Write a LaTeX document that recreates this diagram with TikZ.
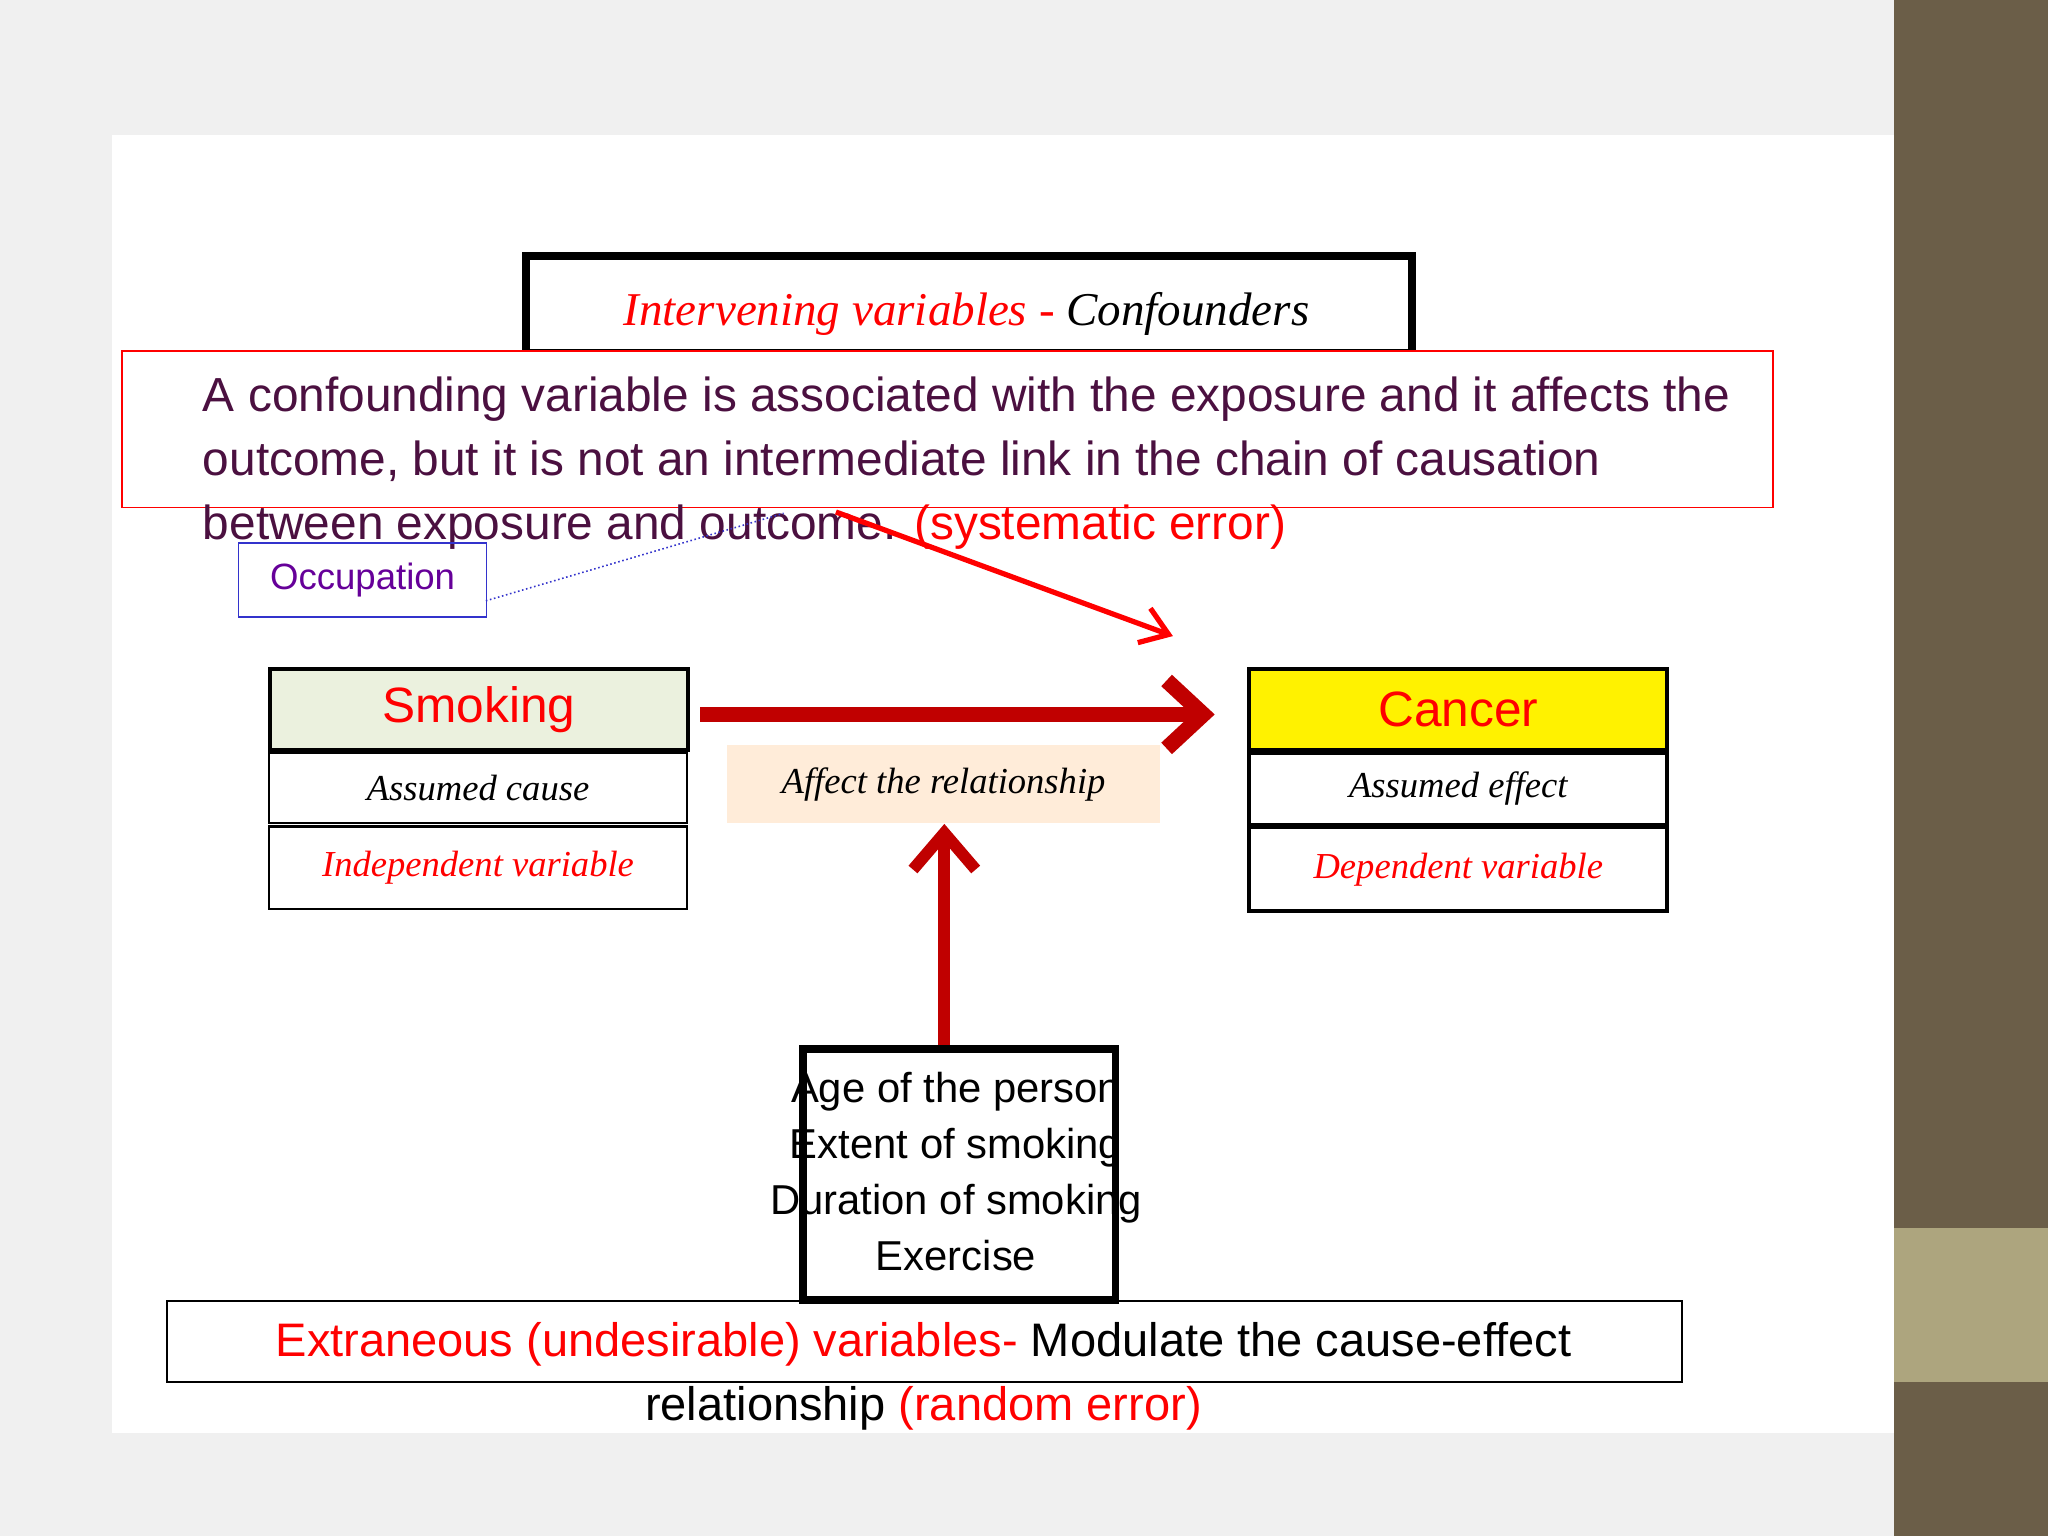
\documentclass[tikz,border=0pt]{standalone}
\usepackage{fontspec}
\setmainfont{Liberation Sans}
\newfontfamily\hand{Liberation Serif}
\usetikzlibrary{arrows.meta}
\definecolor{dred}{HTML}{C00000}
\definecolor{ppl}{HTML}{4B1040}
\definecolor{olive}{HTML}{6B5E48}
\definecolor{olivel}{HTML}{ADA57E}
\definecolor{smkfill}{HTML}{EBF1DE}
\begin{document}
\begin{tikzpicture}[x=0.5pt,y=-0.5pt,
  bx/.style={draw=black,line width=1.5pt,inner sep=0pt,anchor=north west},
  hd/.style={font=\hand\itshape\fontsize{14}{16}\selectfont}]
\fill[gray!12] (0,0) rectangle (1568,1176);
\fill[white] (86,103) rectangle (1450,1097);
\fill[olive] (1450,0) rectangle (1568,1176);
\fill[olivel] (1450,940) rectangle (1568,1058);
% top box
\node[bx,line width=3pt,minimum width=339pt,minimum height=37pt] (top) at (400,193) {};
\node[hd,font=\hand\itshape\fontsize{18}{20}\selectfont] (toptxt) at (740,240) {\textcolor{red}{Intervening variables -} Confounders};
% red box
\node[draw=red,fill=white,line width=0.6pt,inner sep=0pt,anchor=north west,minimum width=632pt,minimum height=60pt] (rb) at (93,268) {};
\node[anchor=north west,text=ppl,align=left,font=\fontsize{18.3}{24.5}\selectfont,inner sep=0pt] (def) at (155,288)
 {A confounding variable is associated with the exposure and it affects the\\
 outcome, but it is not an intermediate link in the chain of causation\\
 between exposure and outcome. \textcolor{red}{(systematic error)}};
% occupation
\node[draw=blue!60!gray,line width=0.6pt,anchor=north west,minimum width=95pt,minimum height=28.5pt,inner sep=0pt,text=violet!80!blue,font=\fontsize{14}{16}\selectfont] (occ) at (182,415) {Occupation};
\coordinate (occe) at (600,393);
\draw[blue!60!gray,densely dotted,line width=0.6pt] (372,460) -- (occe);
\coordinate (ca) at (640,392); \coordinate (cb) at (898,487);
\draw[red,line width=2pt,-{Straight Barb[length=10pt,width=14pt,line width=2pt]}] (ca) -- (cb);
% smoking
\node[bx,fill=smkfill,minimum width=160pt,minimum height=31pt,text=red,font=\fontsize{19}{20}\selectfont] (smk) at (205,511) {Smoking};
\node[bx,line width=1pt,minimum width=160pt,minimum height=27pt,hd] (ac) at (205,575) {Assumed cause};
\node[bx,line width=1pt,minimum width=160pt,minimum height=31.5pt,hd,text=red] (iv) at (205,632) {Independent variable};
% cancer
\node[bx,fill=yellow,minimum width=160pt,minimum height=31pt,text=red,font=\fontsize{19}{20}\selectfont] (can) at (955,511) {Cancer};
\node[bx,minimum width=160pt,minimum height=27.5pt,hd] (ae) at (955,575) {Assumed effect};
\node[bx,minimum width=160pt,minimum height=32pt,hd,text=red] (dv) at (955,632) {Dependent variable};
% main arrow
\coordinate (ma) at (536,547); \coordinate (mb) at (930,547);
\draw[dred,line width=6pt,-{Straight Barb[length=14pt,width=26pt]}] (ma) -- (mb);
\node[fill=orange!15!white,anchor=north west,minimum width=166pt,minimum height=30pt,inner sep=0pt,hd] (aff) at (556,570) {Affect the relationship};
% bottom box
\node[bx,line width=3pt,minimum width=119.5pt,minimum height=96pt] (bb) at (612,800) {};
\node[align=center,font=\fontsize{16}{21.5}\selectfont,inner sep=0pt] (bbt) at (732,897) {Age of the person\\Extent of smoking\\Duration of smoking\\Exercise};
\draw[dred,line width=4.5pt,-{Straight Barb[length=14pt,width=24pt]}] (723,800) -- (aff.south -| 723,0);
% extraneous
\node[bx,line width=0.8pt,minimum width=580pt,minimum height=31pt] (ex) at (127,995) {};
\node[align=center,font=\fontsize{18}{24.5}\selectfont,inner sep=0pt,anchor=north] (ext) at (707,1012)
 {\textcolor{red}{Extraneous (undesirable) variables-} Modulate the cause-effect\\relationship \textcolor{red}{(random error)}};
\end{tikzpicture}
\end{document}
